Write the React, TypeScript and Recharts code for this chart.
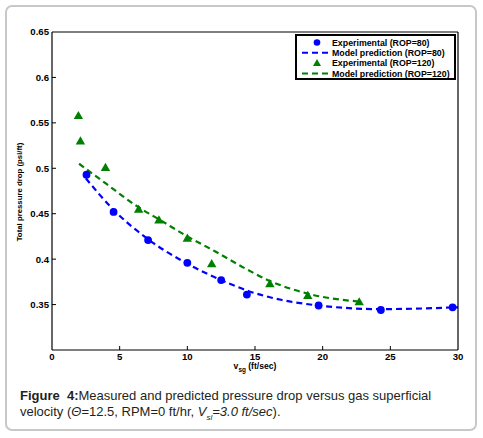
import { ComposedChart, Line, Scatter, XAxis, YAxis } from "recharts";

const W = 483;
const H = 438;

const BLUE = "#0000ff";
const GREEN = "#008000";
const FONT = "'Liberation Sans', Arial, Helvetica, sans-serif";

// axis setup
const xDomain = [0, 30];
const xTicks = [0, 5, 10, 15, 20, 25, 30];
const yDomain = [0.3, 0.65];
const yTicks = [0.35, 0.4, 0.45, 0.5, 0.55, 0.6, 0.65];

// Experimental (ROP=80)
const exp80X = [2.55, 4.55, 7.1, 10.0, 12.5, 14.4, 19.7, 24.3, 29.6];
const exp80Y = [0.493, 0.452, 0.421, 0.396, 0.377, 0.361, 0.349, 0.344, 0.347];

// Model prediction (ROP=80)
const model80X = [2.5, 4.5, 7.0, 10.0, 12.5, 14.5, 17.0, 19.7, 24.3, 30.0];
const model80Y = [0.489, 0.455, 0.423, 0.395, 0.377, 0.365, 0.355, 0.349, 0.345, 0.347];

// Experimental (ROP=120)
const exp120X = [1.95, 2.1, 3.95, 6.4, 7.9, 10.0, 11.8, 16.1, 18.9, 22.7];
const exp120Y = [0.558, 0.53, 0.501, 0.455, 0.443, 0.423, 0.395, 0.373, 0.36, 0.353];

// Model prediction (ROP=120)
const model120X = [2.0, 4.0, 6.3, 8.0, 10.0, 12.0, 14.0, 16.1, 18.9, 22.9];
const model120Y = [0.505, 0.483, 0.458, 0.443, 0.425, 0.409, 0.392, 0.376, 0.362, 0.353];

const zip = (xs: number[], ys: number[]) => xs.map((x, i) => ({ x, y: ys[i] }));

const TICK_TEXT = {
  fontFamily: FONT,
  fontWeight: 700,
  fontSize: 9.6,
  fill: "#000",
};
const IN = 4; // inward tick length
const MARGIN_X = 3;
const MARGIN_Y = 3;

function BottomTick({ x, y, payload }: any) {
  const v = payload.value;
  const axisY = y - MARGIN_X;
  const inner = v > xDomain[0] && v < xDomain[1];
  return (
    <g>
      {inner && <line x1={x} x2={x} y1={axisY} y2={axisY - IN} stroke="#000" strokeWidth={1} />}
      <text x={x} y={y} dy="0.72em" textAnchor="middle" {...TICK_TEXT}>
        {String(v)}
      </text>
    </g>
  );
}

function TopTick({ x, y, payload }: any) {
  const v = payload.value;
  if (!(v > xDomain[0] && v < xDomain[1])) return <g />;
  return <line x1={x} x2={x} y1={y} y2={y + IN} stroke="#000" strokeWidth={1} />;
}

function LeftTick({ x, y, payload }: any) {
  const v = payload.value;
  const axisX = x + MARGIN_Y;
  const inner = v > yDomain[0] && v < yDomain[1];
  return (
    <g>
      {inner && <line x1={axisX} x2={axisX + IN} y1={y} y2={y} stroke="#000" strokeWidth={1} />}
      <text x={x} y={y} dy="0.36em" textAnchor="end" {...TICK_TEXT}>
        {String(v)}
      </text>
    </g>
  );
}

function RightTick({ x, y, payload }: any) {
  const v = payload.value;
  if (!(v > yDomain[0] && v < yDomain[1])) return <g />;
  return <line x1={x} x2={x - IN} y1={y} y2={y} stroke="#000" strokeWidth={1} />;
}

const Dot = (p: any) => <circle cx={p.cx} cy={p.cy} r={3.9} fill={BLUE} />;
const Tri = (p: any) => (
  <polygon
    points={`${p.cx},${p.cy - 4.7} ${p.cx - 4.7},${p.cy + 3.5} ${p.cx + 4.7},${p.cy + 3.5}`}
    fill={GREEN}
  />
);

const legendRows = [
  { label: "Experimental (ROP=80)", kind: "dot", color: BLUE },
  { label: "Model prediction (ROP=80)", kind: "dash", color: BLUE },
  { label: "Experimental (ROP=120)", kind: "tri", color: GREEN },
  { label: "Model prediction (ROP=120)", kind: "dash", color: GREEN },
];

function Overlay() {
  return (
    <svg width={W} height={H} style={{ position: "absolute", left: 0, top: 0, pointerEvents: "none" }}>
      {/* legend */}
      <rect x={296} y={35} width={159} height={44} fill="#fff" stroke="#000" strokeWidth={2} />
      {legendRows.map((r, i) => {
        const cy = 42.5 + i * 10.3;
        return (
          <g key={r.label}>
            {r.kind === "dot" && <circle cx={317} cy={cy} r={3.3} fill={r.color} />}
            {r.kind === "tri" && (
              <polygon points={`317,${cy - 4} 313,${cy + 3} 321,${cy + 3}`} fill={r.color} />
            )}
            {r.kind === "dash" && (
              <line x1={302} x2={330} y1={cy} y2={cy} stroke={r.color} strokeWidth={2} strokeDasharray="6 4" />
            )}
            <text x={332} y={cy} dy="0.36em" fontFamily={FONT} fontWeight={700} fontSize={8.8} fill="#000">
              {r.label}
            </text>
          </g>
        );
      })}
      {/* y axis title */}
      <text
        transform="translate(22,192) rotate(-90)"
        textAnchor="middle"
        fontFamily={FONT}
        fontWeight={700}
        fontSize={7.8}
        fill="#000"
      >
        Total pressure drop (psi/ft)
      </text>
      {/* x axis title */}
      <text x={255} y={369} textAnchor="middle" fontFamily={FONT} fontWeight={700} fontSize={8.6} fill="#000">
        v
        <tspan fontSize={6.4} dy={2.5}>sg</tspan>
        <tspan dy={-2.5}> (ft/sec)</tspan>
      </text>
    </svg>
  );
}

export default function App() {
  return (
    <div style={{ position: "absolute", left: 0, top: 0, width: W, height: H, background: "#fff" }}>
      <div
        style={{
          position: "absolute",
          left: 5,
          top: 5,
          width: 468,
          height: 422,
          border: "2px solid #c8c8c8",
          borderRadius: 7,
        }}
      />
      <ComposedChart width={W} height={H} margin={{ top: 28, right: 21, bottom: 68, left: 12 }}>
        <XAxis
          type="number"
          dataKey="x"
          domain={xDomain}
          ticks={xTicks}
          height={20}
          tickSize={0}
          tickMargin={MARGIN_X}
          tick={<BottomTick />}
          axisLine={{ stroke: "#000", strokeWidth: 1.2 }}
          allowDataOverflow
        />
        <XAxis
          xAxisId="top"
          orientation="top"
          type="number"
          dataKey="x"
          domain={xDomain}
          ticks={xTicks}
          height={4}
          tickSize={0}
          tickMargin={0}
          tick={<TopTick />}
          axisLine={{ stroke: "#000", strokeWidth: 1.2 }}
        />
        <YAxis
          type="number"
          dataKey="y"
          domain={yDomain}
          ticks={yTicks}
          width={40}
          tickSize={0}
          tickMargin={MARGIN_Y}
          tick={<LeftTick />}
          axisLine={{ stroke: "#000", strokeWidth: 1.2 }}
          allowDataOverflow
        />
        <YAxis
          yAxisId="right"
          orientation="right"
          type="number"
          dataKey="y"
          domain={yDomain}
          ticks={yTicks}
          width={4}
          tickSize={0}
          tickMargin={0}
          tick={<RightTick />}
          axisLine={{ stroke: "#000", strokeWidth: 1.2 }}
        />
        <Line
          data={zip(model120X, model120Y)}
          dataKey="y"
          type="monotone"
          stroke={GREEN}
          strokeWidth={2.2}
          strokeDasharray="6 4"
          dot={false}
          activeDot={false}
          isAnimationActive={false}
        />
        <Line
          data={zip(model80X, model80Y)}
          dataKey="y"
          type="monotone"
          stroke={BLUE}
          strokeWidth={2.2}
          strokeDasharray="6 4"
          dot={false}
          activeDot={false}
          isAnimationActive={false}
        />
        <Scatter data={zip(exp120X, exp120Y)} dataKey="y" shape={<Tri />} isAnimationActive={false} />
        <Scatter data={zip(exp80X, exp80Y)} dataKey="y" shape={<Dot />} isAnimationActive={false} />
      </ComposedChart>
      <Overlay />
      <div
        style={{
          position: "absolute",
          left: 20,
          top: 388,
          width: 450,
          fontFamily: FONT,
          fontSize: 13,
          lineHeight: "16px",
          color: "#231f20",
        }}
      >
        <b>Figure&nbsp; 4:</b>Measured and predicted pressure drop versus gas superficial
        <br />
        velocity (<i>Θ</i>=12.5, RPM=0 ft/hr, <i>V</i>
        <sub style={{ fontSize: 8, fontStyle: "italic", lineHeight: 0 }}>sl</sub>
        <i>=3.0 ft/sec</i>).
      </div>
    </div>
  );
}
